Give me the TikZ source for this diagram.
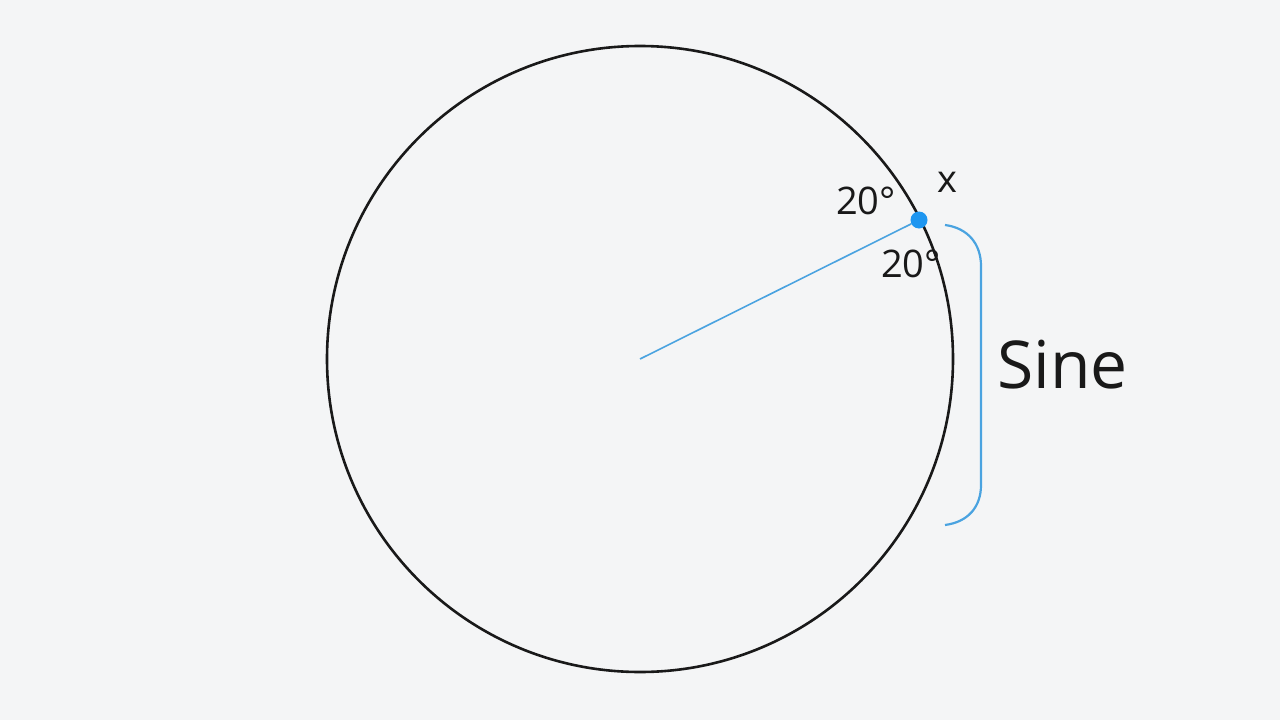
\documentclass[tikz,border=0pt]{standalone}
\usepackage{fontspec}
\setmainfont{Open Sans}
\definecolor{bg}{HTML}{F4F5F6}
\definecolor{dotblue}{HTML}{1E96F0}
\definecolor{lineblue}{HTML}{4AA3E0}
\tikzset{
  lbl/.style={inner sep=0pt, font=\fontsize{38}{40}\selectfont, text=black!90},
  big/.style={inner sep=0pt, font=\fontsize{66}{70}\selectfont, text=black!90},
}
\begin{document}
\begin{tikzpicture}[x=1pt,y=-1pt]
\fill[bg] (0,0) rectangle (1280,720);
\useasboundingbox (0,0) rectangle (1280,720);
\node[circle, draw=black!90, line width=2.6pt, minimum size=626pt, inner sep=0pt] (c) at (640,359) {};
\node[circle, fill=dotblue, minimum size=17pt, inner sep=0pt] (p) at (919,220) {};
\draw[lineblue, line width=1.6pt] (c.center) -- (p);
\coordinate (b1) at (945,225);
\coordinate (b2) at (945,525);
\draw[lineblue, line width=2.2pt] (b1) .. controls (968,228) and (981,244) .. (981,266) -- (981,485) .. controls (981,507) and (968,522) .. (b2);
\node[lbl, anchor=base] (a1) at (866,214) {20°};
\node[lbl, anchor=base] (a2) at (911,277) {20°};
\node[lbl, anchor=base] (x) at (947,192) {x};
\node[big, anchor=base west] (s) at (997,388) {Sine};
\end{tikzpicture}
\end{document}
